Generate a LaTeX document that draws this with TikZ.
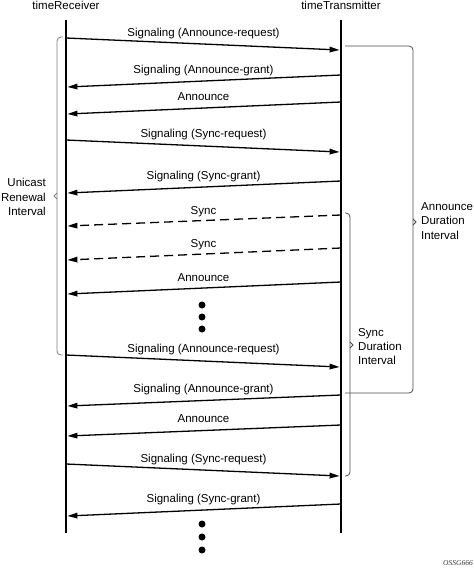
\documentclass[tikz,border=0pt]{standalone}
\usepackage{fontspec}
\setmainfont{Liberation Sans}
\newfontfamily\tagfont{Liberation Serif}
\usetikzlibrary{arrows.meta}
\begin{document}
\begin{tikzpicture}[x=1pt,y=-1pt,
  lifeline/.style={line width=2.4pt},
  msg/.style={line width=1.3pt,-{Triangle[length=10pt,width=5.5pt]}},
  dmsg/.style={msg,dash pattern=on 9pt off 5pt},
  lbl/.style={inner sep=0pt,anchor=base,font=\fontsize{11.5}{14}\selectfont},
  bracelbl/.style={inner sep=0pt,font=\fontsize{11.5}{14.2}\selectfont},
  bracepath/.style={draw=black!70,line width=0.8pt,rounded corners=4pt},
  tippath/.style={draw=black!70,line width=0.8pt},
  lbracepath/.style={bracepath,draw=black!50},
  ltippath/.style={tippath,draw=black!50},
  dot/.style={circle,fill=black,inner sep=0pt,minimum size=7pt}]
\useasboundingbox (0,0) rectangle (474,568);

% headers
\node[lbl] (tr) at (66,9.5) {timeReceiver};
\node[lbl] (tt) at (341,9.5) {timeTransmitter};

% lifelines
\coordinate (rtop) at (66,20);
\coordinate (rbot) at (66,533);
\coordinate (ttop) at (341,20);
\coordinate (tbot) at (341,533);
\draw[lifeline] (rtop) -- (rbot);
\draw[lifeline] (ttop) -- (tbot);

% messages
\def\LX{66}\def\LXe{67.4}\def\RX{341}\def\RXe{339.6}
% 1
\coordinate (m1a) at (\LX,38); \coordinate (m1b) at (\RXe,50);
\draw[msg] (m1a) -- (m1b);
\node[lbl] (l1) at (203.5,36) {Signaling (Announce-request)};
% 2
\coordinate (m2a) at (\RX,75); \coordinate (m2b) at (\LXe,87);
\draw[msg] (m2a) -- (m2b);
\node[lbl] (l2) at (203.5,73) {Signaling (Announce-grant)};
% 3
\coordinate (m3a) at (\RX,102); \coordinate (m3b) at (\LXe,114);
\draw[msg] (m3a) -- (m3b);
\node[lbl] (l3) at (203.5,100.5) {Announce};
% 4
\coordinate (m4a) at (\LX,140); \coordinate (m4b) at (\RXe,152);
\draw[msg] (m4a) -- (m4b);
\node[lbl] (l4) at (203.5,137) {Signaling (Sync-request)};
% 5
\coordinate (m5a) at (\RX,181); \coordinate (m5b) at (\LXe,193);
\draw[msg] (m5a) -- (m5b);
\node[lbl] (l5) at (203.5,179) {Signaling (Sync-grant)};
% 6
\coordinate (m6a) at (\RX,215); \coordinate (m6b) at (\LXe,226);
\draw[dmsg] (m6a) -- (m6b);
\node[lbl] (l6) at (203.5,214) {Sync};
% 7
\coordinate (m7a) at (\RX,248); \coordinate (m7b) at (\LXe,260);
\draw[dmsg] (m7a) -- (m7b);
\node[lbl] (l7) at (203.5,247) {Sync};
% 8
\coordinate (m8a) at (\RX,282); \coordinate (m8b) at (\LXe,294);
\draw[msg] (m8a) -- (m8b);
\node[lbl] (l8) at (203.5,281.5) {Announce};
% dots
\node[dot] (d1) at (202,305) {};
\node[dot] (d2) at (202,317) {};
\node[dot] (d3) at (202,329) {};
% 9
\coordinate (m9a) at (\LX,355); \coordinate (m9b) at (\RXe,367);
\draw[msg] (m9a) -- (m9b);
\node[lbl] (l9) at (203.5,352.5) {Signaling (Announce-request)};
% 10
\coordinate (m10a) at (\RX,395); \coordinate (m10b) at (\LXe,406);
\draw[msg] (m10a) -- (m10b);
\node[lbl] (l10) at (203.5,392.5) {Signaling (Announce-grant)};
% 11
\coordinate (m11a) at (\RX,425); \coordinate (m11b) at (\LXe,436);
\draw[msg] (m11a) -- (m11b);
\node[lbl] (l11) at (203.5,422.5) {Announce};
% 12
\coordinate (m12a) at (\LX,464); \coordinate (m12b) at (\RXe,476);
\draw[msg] (m12a) -- (m12b);
\node[lbl] (l12) at (203.5,462) {Signaling (Sync-request)};
% 13
\coordinate (m13a) at (\RX,504); \coordinate (m13b) at (\LXe,516);
\draw[msg] (m13a) -- (m13b);
\node[lbl] (l13) at (203.5,502) {Signaling (Sync-grant)};
% dots
\node[dot] (d4) at (202,524) {};
\node[dot] (d5) at (202,537) {};
\node[dot] (d6) at (202,550) {};

% left brace: Unicast Renewal Interval
\draw[lbracepath] (63,37) -- (57,37) -- (57,355) -- (63,355);
\draw[ltippath] (57,193) -- (54,196) -- (57,199);
\node[bracelbl,anchor=east,align=right] (uri) at (46,197) {Unicast\\Renewal\\Interval};

% right brace: Announce Duration Interval
\draw[bracepath] (345,46) -- (413,46) -- (413,393) -- (345,393);
\draw[tippath] (413,219) -- (416,222) -- (413,225);
\node[bracelbl,anchor=west,align=left] (adi) at (421,221) {Announce\\Duration\\Interval};

% right brace: Sync Duration Interval
\draw[bracepath] (345,213) -- (350,213) -- (350,476) -- (345,476);
\draw[tippath] (350,342) -- (353,345) -- (350,348);
\node[bracelbl,anchor=west,align=left] (sdi) at (358,346.5) {Sync\\Duration\\Interval};

% figure tag
\node[inner sep=0pt,anchor=base east,font=\tagfont\itshape\fontsize{7.5}{8}\selectfont,text=black!80] (tag) at (473,565) {OSSG666};
\end{tikzpicture}
\end{document}
